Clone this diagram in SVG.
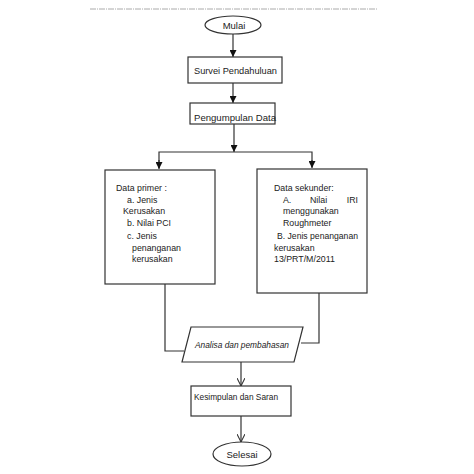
<svg xmlns="http://www.w3.org/2000/svg" width="474" height="474" viewBox="0 0 474 474">
<defs>
<style>
.s{fill:#fff;stroke:#333;stroke-width:1.2}
.c{fill:none;stroke:#333;stroke-width:1.2}
.t{font-family:"Liberation Sans",Arial,sans-serif;font-size:9.5px;fill:#222}
.b{font-family:"Liberation Sans",Arial,sans-serif;font-size:8.8px;fill:#222}
</style>
<marker id="af" viewBox="0 0 10 10" refX="10" refY="5" markerWidth="7" markerHeight="7" markerUnits="userSpaceOnUse" orient="auto">
<path d="M0,0 L10,5 L0,10 Z" fill="#111"/>
</marker>
<marker id="ao" viewBox="0 0 10 10" refX="10" refY="5" markerWidth="8" markerHeight="8" markerUnits="userSpaceOnUse" orient="auto">
<path d="M0,0 L10,5 L0,10" fill="none" stroke="#333" stroke-width="1.3"/>
</marker>
</defs>
<rect width="474" height="474" fill="#fff"/>
<line x1="90" y1="9" x2="377" y2="9" stroke="#aaa" stroke-width="1" stroke-dasharray="6,1,1,1"/>
<g id="connectors">
<line class="c" x1="233" y1="34" x2="233" y2="57" marker-end="url(#af)" stroke-width="1.5"/>
<line class="c" x1="233" y1="83" x2="233" y2="103" marker-end="url(#af)" stroke-width="1.5"/>
<line class="c" x1="234" y1="124" x2="234" y2="152" marker-end="url(#af)" stroke-width="1.5"/>
<polyline class="c" points="159,168 159,152 312,152 312,167"/>
<line class="c" x1="159" y1="160" x2="159" y2="169" marker-end="url(#af)"/>
<line class="c" x1="312" y1="160" x2="312" y2="168" marker-end="url(#af)"/>
<polyline class="c" points="165,284 165,351 184,351"/>
<polyline class="c" points="319,287 319,343 301,343"/>
<line class="c" x1="241" y1="362" x2="241" y2="386" marker-end="url(#ao)"/>
<line class="c" x1="241" y1="416" x2="241" y2="442" marker-end="url(#ao)"/>
</g>
<g id="mulai">
<ellipse class="s" cx="233" cy="25" rx="28" ry="9"/>
<text class="t" x="234" y="28.5" text-anchor="middle">Mulai</text>
</g>
<g id="survei">
<rect class="s" x="188" y="57" width="94" height="26" stroke-width="1.5"/>
<text class="t" x="194" y="74" textLength="83" lengthAdjust="spacingAndGlyphs">Survei Pendahuluan</text>
</g>
<g id="pengumpulan">
<rect class="s" x="190" y="103" width="85" height="21"/>
<text class="t" x="194" y="121" textLength="82" lengthAdjust="spacingAndGlyphs">Pengumpulan Data</text>
</g>
<g id="primer">
<rect class="s" x="105" y="170" width="110" height="114"/>
<text class="b" x="116" y="191">Data primer :</text>
<text class="b" x="127" y="203">a. Jenis</text>
<text class="b" x="123" y="214">Kerusakan</text>
<text class="b" x="127" y="226">b. Nilai PCI</text>
<text class="b" x="127" y="239">c. Jenis</text>
<text class="b" x="132" y="251">penanganan</text>
<text class="b" x="132" y="262">kerusakan</text>
</g>
<g id="sekunder">
<rect class="s" x="257" y="169" width="110" height="124"/>
<text class="b" x="274" y="191">Data sekunder:</text>
<text class="b" x="283" y="203">A.</text>
<text class="b" x="310" y="203">Nilai</text>
<text class="b" x="358" y="203" text-anchor="end">IRI</text>
<text class="b" x="283" y="214">menggunakan</text>
<text class="b" x="283" y="226">Roughmeter</text>
<text class="b" x="277" y="239" textLength="81" lengthAdjust="spacingAndGlyphs">B. Jenis penanganan</text>
<text class="b" x="274" y="251">kerusakan</text>
<text class="b" x="274" y="262">13/PRT/M/2011</text>
</g>
<g id="analisa">
<polygon class="s" points="191,327 303,327 294,362 182,362"/>
<text class="t" x="195" y="347.5" font-style="italic" textLength="94" lengthAdjust="spacingAndGlyphs">Analisa dan pembahasan</text>
</g>
<g id="kesimpulan">
<rect class="s" x="191" y="386" width="100" height="30"/>
<text class="t" x="194" y="400" textLength="84" lengthAdjust="spacingAndGlyphs">Kesimpulan dan Saran</text>
</g>
<g id="selesai">
<ellipse class="s" cx="242" cy="454" rx="29" ry="12"/>
<text class="t" x="242" y="457.5" text-anchor="middle">Selesai</text>
</g>
</svg>
